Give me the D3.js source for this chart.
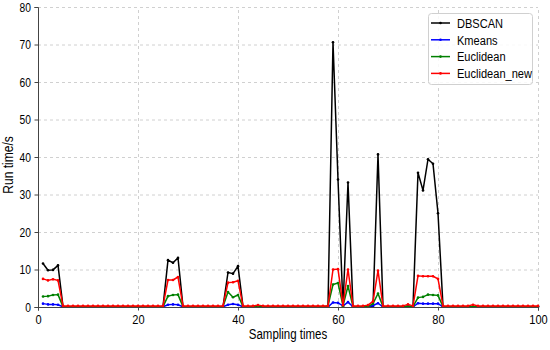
<!DOCTYPE html>
<html>
<head>
<meta charset="utf-8">
<script src="https://d3js.org/d3.v7.min.js"></script>
<style>
body { margin: 0; background: #fff; }
svg text { font-family: "Liberation Sans", Arial, sans-serif; fill: #000; }
.grid line { stroke: #c4c4c4; stroke-width: 0.8; stroke-dasharray: 3,3; }
.grid path { display: none; }
.axis path, .axis line { stroke: #444; stroke-width: 1; }
</style>
</head>
<body>
<svg class="chart" width="550" height="350"></svg>
<script>
// sampling index 1..100
var samples = d3.range(1, 101);

var seriesNames = ["DBSCAN", "Kmeans", "Euclidean", "Euclidean_new"];
var seriesColors = ["#000000", "#0000ff", "#008000", "#ff0000"];

var xTicks = [0, 20, 40, 60, 80, 100];
var yTicks = [0, 10, 20, 30, 40, 50, 60, 70, 80];

var dbscan = [
  11.6, 9.8, 9.9, 11.1, 0.1, 0.1, 0.1, 0.1, 0.1, 0.1,
  0.1, 0.1, 0.1, 0.1, 0.1, 0.1, 0.1, 0.1, 0.1, 0.1,
  0.1, 0.1, 0.1, 0.1, 0.1, 12.5, 11.8, 13.1, 0.1, 0.1,
  0.1, 0.1, 0.1, 0.1, 0.1, 0.1, 0.1, 9.2, 8.9, 10.9,
  0.1, 0.1, 0.1, 0.2, 0.1, 0.1, 0.1, 0.1, 0.1, 0.1,
  0.1, 0.1, 0.1, 0.1, 0.1, 0.1, 0.1, 0.1, 70.6, 34.0,
  0.1, 33.2, 0.1, 0.1, 0.1, 0.1, 0.1, 40.7, 0.1, 0.1,
  0.1, 0.1, 0.1, 0.3, 0.1, 35.8, 31.1, 39.4, 38.2, 25.0,
  0.1, 0.1, 0.1, 0.1, 0.1, 0.1, 0.1, 0.1, 0.1, 0.1,
  0.1, 0.1, 0.1, 0.1, 0.1, 0.1, 0.1, 0.1, 0.1, 0.1
];

var kmeans = [
  0.9, 0.7, 0.7, 0.6, 0.05, 0.05, 0.05, 0.05, 0.05, 0.05,
  0.05, 0.05, 0.05, 0.05, 0.05, 0.05, 0.05, 0.05, 0.05, 0.05,
  0.05, 0.05, 0.05, 0.05, 0.05, 0.6, 0.7, 0.6, 0.05, 0.05,
  0.05, 0.05, 0.05, 0.05, 0.05, 0.05, 0.05, 0.6, 0.8, 0.6,
  0.05, 0.05, 0.05, 0.05, 0.05, 0.05, 0.05, 0.05, 0.05, 0.05,
  0.05, 0.05, 0.05, 0.05, 0.05, 0.05, 0.05, 0.05, 1.2, 1.1,
  0.3, 1.3, 0.05, 0.05, 0.05, 0.05, 0.4, 1.0, 0.05, 0.05,
  0.05, 0.05, 0.05, 0.05, 0.05, 1.0, 0.9, 0.9, 0.9, 0.9,
  0.05, 0.05, 0.05, 0.05, 0.05, 0.05, 0.05, 0.05, 0.05, 0.05,
  0.05, 0.05, 0.05, 0.05, 0.05, 0.05, 0.05, 0.05, 0.05, 0.05
];

var euclidean = [
  2.8, 2.9, 3.2, 3.3, 0.1, 0.1, 0.1, 0.1, 0.1, 0.1,
  0.1, 0.1, 0.1, 0.1, 0.1, 0.1, 0.1, 0.1, 0.1, 0.1,
  0.1, 0.1, 0.1, 0.1, 0.1, 2.9, 3.2, 3.3, 0.1, 0.1,
  0.1, 0.1, 0.1, 0.1, 0.1, 0.1, 0.1, 4.0, 2.6, 3.2,
  0.1, 0.1, 0.1, 0.1, 0.1, 0.1, 0.1, 0.1, 0.1, 0.1,
  0.1, 0.1, 0.1, 0.1, 0.1, 0.1, 0.1, 0.3, 6.0, 6.4,
  0.3, 5.6, 0.1, 0.1, 0.1, 0.1, 0.9, 3.6, 0.1, 0.1,
  0.1, 0.1, 0.1, 0.1, 0.1, 2.5, 2.7, 3.3, 3.2, 3.1,
  0.1, 0.1, 0.1, 0.1, 0.1, 0.1, 0.1, 0.1, 0.1, 0.1,
  0.1, 0.1, 0.1, 0.1, 0.1, 0.1, 0.1, 0.1, 0.1, 0.1
];

var euclideanNew = [
  7.5, 7.1, 7.4, 7.1, 0.3, 0.3, 0.3, 0.3, 0.3, 0.3,
  0.3, 0.3, 0.3, 0.3, 0.3, 0.3, 0.3, 0.3, 0.3, 0.3,
  0.3, 0.3, 0.3, 0.3, 0.3, 7.2, 7.2, 8.0, 0.3, 0.3,
  0.3, 0.3, 0.3, 0.3, 0.3, 0.3, 0.3, 6.5, 6.6, 7.0,
  0.3, 0.3, 0.3, 0.5, 0.3, 0.3, 0.3, 0.3, 0.3, 0.3,
  0.3, 0.3, 0.3, 0.3, 0.3, 0.3, 0.3, 0.3, 10.0, 10.1,
  0.5, 10.0, 0.3, 0.3, 0.3, 0.5, 1.5, 9.7, 0.3, 0.3,
  0.3, 0.3, 0.3, 0.7, 0.3, 8.3, 8.2, 8.2, 8.2, 7.5,
  0.3, 0.3, 0.3, 0.3, 0.3, 0.3, 0.6, 0.3, 0.3, 0.3,
  0.3, 0.3, 0.3, 0.3, 0.3, 0.3, 0.3, 0.3, 0.3, 0.3
];

var seriesValues = [dbscan, kmeans, euclidean, euclideanNew];

var margin = {top: 7, right: 12, bottom: 43, left: 38};
var width = 550 - margin.left - margin.right;
var height = 350 - margin.top - margin.bottom;

// the source figure's text is horizontally squeezed
var squeeze = 0.82;

var svg = d3.select(".chart");
var g = svg.append("g")
    .attr("transform", "translate(" + margin.left + "," + margin.top + ")");

var x = d3.scaleLinear().domain([0, 100]).range([0, width]);
var y = d3.scaleLinear().domain([0, 80]).range([height, 0]);

// grid
g.append("g")
    .attr("class", "grid")
    .call(d3.axisLeft(y).tickValues(yTicks).tickSize(-width).tickFormat(""));
g.append("g")
    .attr("class", "grid")
    .attr("transform", "translate(0," + height + ")")
    .call(d3.axisBottom(x).tickValues(xTicks).tickSize(-height).tickFormat(""));

// lines
var line = d3.line()
    .x(function(d, i) { return x(samples[i]); })
    .y(function(d) { return y(d); });

seriesValues.forEach(function(vals, k) {
    var sg = g.append("g").attr("class", "series");
    sg.append("path")
        .datum(vals)
        .attr("fill", "none")
        .attr("stroke", seriesColors[k])
        .attr("stroke-width", 1.5)
        .attr("stroke-linejoin", "round")
        .attr("d", line);
    sg.selectAll("circle")
        .data(vals)
        .enter().append("circle")
        .attr("cx", function(d, i) { return x(samples[i]); })
        .attr("cy", function(d) { return y(d); })
        .attr("r", 1.3)
        .attr("fill", seriesColors[k]);
});

// axes
var yAxis = g.append("g")
    .attr("class", "axis")
    .call(d3.axisLeft(y).tickValues(yTicks).tickSize(3.5).tickPadding(3));
yAxis.selectAll("text")
    .style("font-size", "12.5px")
    .attr("x", -7 / squeeze)
    .attr("transform", "scale(" + squeeze + ",1)");

var xAxis = g.append("g")
    .attr("class", "axis")
    .attr("transform", "translate(0," + height + ")")
    .call(d3.axisBottom(x).tickValues(xTicks).tickSize(3.5).tickPadding(4));
xAxis.selectAll("text")
    .style("font-size", "13.5px")
    .attr("transform", "scale(" + squeeze + ",1)");
xAxis.select(".domain").attr("stroke", "#555");

g.append("text")
    .attr("transform", "translate(" + (width / 2) + "," + (height + 32) + ") scale(" + squeeze + ",1)")
    .style("text-anchor", "middle")
    .style("font-size", "14px")
    .text("Sampling times");

g.append("text")
    .attr("transform", "translate(" + (-25) + "," + (height / 2 + 8) + ") rotate(-90) scale(0.86,1)")
    .style("text-anchor", "middle")
    .style("font-size", "14px")
    .text("Run time/s");

// legend
var legend = svg.append("g").attr("class", "legendgroup");
legend.append("rect")
    .attr("x", 428.5)
    .attr("y", 13.5)
    .attr("width", 104)
    .attr("height", 71)
    .attr("rx", 3)
    .attr("fill", "#fff")
    .attr("fill-opacity", 0.85)
    .attr("stroke", "#d0d0d0");

seriesNames.forEach(function(name, k) {
    var ly = 23 + k * 16.8;
    legend.append("line")
        .attr("x1", 431)
        .attr("x2", 450)
        .attr("y1", ly)
        .attr("y2", ly)
        .attr("stroke", seriesColors[k])
        .attr("stroke-width", 1.5);
    legend.append("circle")
        .attr("cx", 440.5)
        .attr("cy", ly)
        .attr("r", 1.3)
        .attr("fill", seriesColors[k]);
    legend.append("text")
        .attr("transform", "translate(457," + ly + ") scale(" + squeeze + ",1)")
        .attr("dy", ".35em")
        .style("font-size", "13.5px")
        .text(name);
});
</script>
</body>
</html>
